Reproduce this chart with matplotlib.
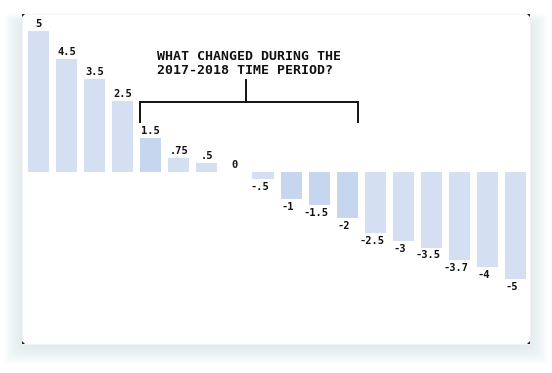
import matplotlib
matplotlib.use("Agg")
import matplotlib.pyplot as plt
from matplotlib.patches import FancyBboxPatch, Rectangle, Polygon
import numpy as np

# ---- data ----
labels = ["5", "4.5", "3.5", "2.5", "1.5", ".75", ".5", "0", "-.5", "-1",
          "-1.5", "-2", "-2.5", "-3", "-3.5", "-3.7", "-4", "-5"]
# bar heights as drawn in the picture (label units)
heights = [5.0, 4.01, 3.29, 2.51, 1.20, 0.51, 0.31, 0.0, -0.25, -0.96,
           -1.17, -1.64, -2.17, -2.44, -2.68, -3.12, -3.38, -3.80]
highlight = [False, False, False, False, True, False, False, False, False, True,
             True, True, False, False, False, False, False, False]
title = "WHAT CHANGED DURING THE\n2017-2018 TIME PERIOD?"

W, H = 552, 373
fig = plt.figure(figsize=(W / 100, H / 100), dpi=100)
fig.patch.set_facecolor("white")

def fx(x):
    return x / W

def fy(y):
    return 1 - y / H

# ---- card shadow and card ----
cx0, cy0, cx1, cy1 = 22, 14, 530, 344
for k in range(1, 19):
    top = cy0 + 10 - k * 0.6
    bot = cy1 + 2 + k
    sh = FancyBboxPatch((fx(cx0 - k), fy(bot)),
                        (cx1 - cx0 + 2 * k) / W, (bot - top) / H,
                        boxstyle="round,pad=0,rounding_size=0.015",
                        transform=fig.transFigure, facecolor="#6f7d92",
                        edgecolor="none", alpha=0.006, zorder=0)
    fig.patches.append(sh)
card = Rectangle((fx(cx0), fy(cy1)), (cx1 - cx0) / W, (cy1 - cy0) / H,
                 transform=fig.transFigure, facecolor="white",
                 edgecolor="#f0f2f5", lw=0.5, zorder=1)
fig.patches.append(card)
# tiny corner marks
s = 3
for (x, y, dx, dy) in [(cx0, cy0, 1, 1), (cx1, cy0, -1, 1), (cx0, cy1, 1, -1), (cx1, cy1, -1, -1)]:
    tri = Polygon([(fx(x), fy(y)), (fx(x + dx * s), fy(y)), (fx(x), fy(y + dy * s))],
                  closed=True, transform=fig.transFigure, facecolor="#222222",
                  edgecolor="none", zorder=2)
    fig.patches.append(tri)

# ---- axes mapped onto the figure ----
ax = fig.add_axes([0, 0, 1, 1], zorder=3)
ax.patch.set_alpha(0)
pxu_x = 28.06
pxu_y = 28.2
x0_px = 38.5
base_px = 172.0
xmin = -x0_px / pxu_x
ax.set_xlim(xmin, xmin + W / pxu_x)
ymax = base_px / pxu_y
ax.set_ylim(ymax - H / pxu_y, ymax)
ax.axis("off")

light = "#d4e0f1"
dark = "#c5d6ee"
xs = np.arange(len(heights))
colors = [dark if h else light for h in highlight]
ax.bar(xs, heights, width=0.75, color=colors, edgecolor="none", zorder=3)

mono = "DejaVu Sans Mono"
for x, h, lab in zip(xs, heights, labels):
    if h > 0 or lab == "0":
        ax.annotate(lab, (x, h), xytext=(0, 1.5), textcoords="offset points",
                    ha="center", va="bottom", fontsize=7.5, fontweight="bold",
                    family=mono, color="#111111", zorder=4)
    else:
        ax.annotate(lab, (x, h), xytext=(-2.5, -2), textcoords="offset points",
                    ha="center", va="top", fontsize=7.5, fontweight="bold",
                    family=mono, color="#111111", zorder=4)

# ---- bracket annotation ----
left = 4 - 0.375
right = 11 + 0.375
ybar = (base_px - 102) / pxu_y
yleg = (base_px - 121.7) / pxu_y
ystem = (base_px - 80) / pxu_y
xstem = (245.5 - x0_px) / pxu_x
ax.plot([left, left, right, right], [yleg, ybar, ybar, yleg], color="#111111",
        lw=1.4, solid_joinstyle="miter", zorder=5)
ax.plot([xstem, xstem], [ybar, ystem], color="#111111", lw=1.4, zorder=5)

ax.text((249 - x0_px) / pxu_x, (base_px - 64) / pxu_y, title, ha="center",
        va="center", multialignment="left", fontsize=9.5, fontweight="bold",
        family=mono, color="#111111", linespacing=1.1, zorder=5)

fig.savefig("out.png", dpi=100, facecolor="white")
